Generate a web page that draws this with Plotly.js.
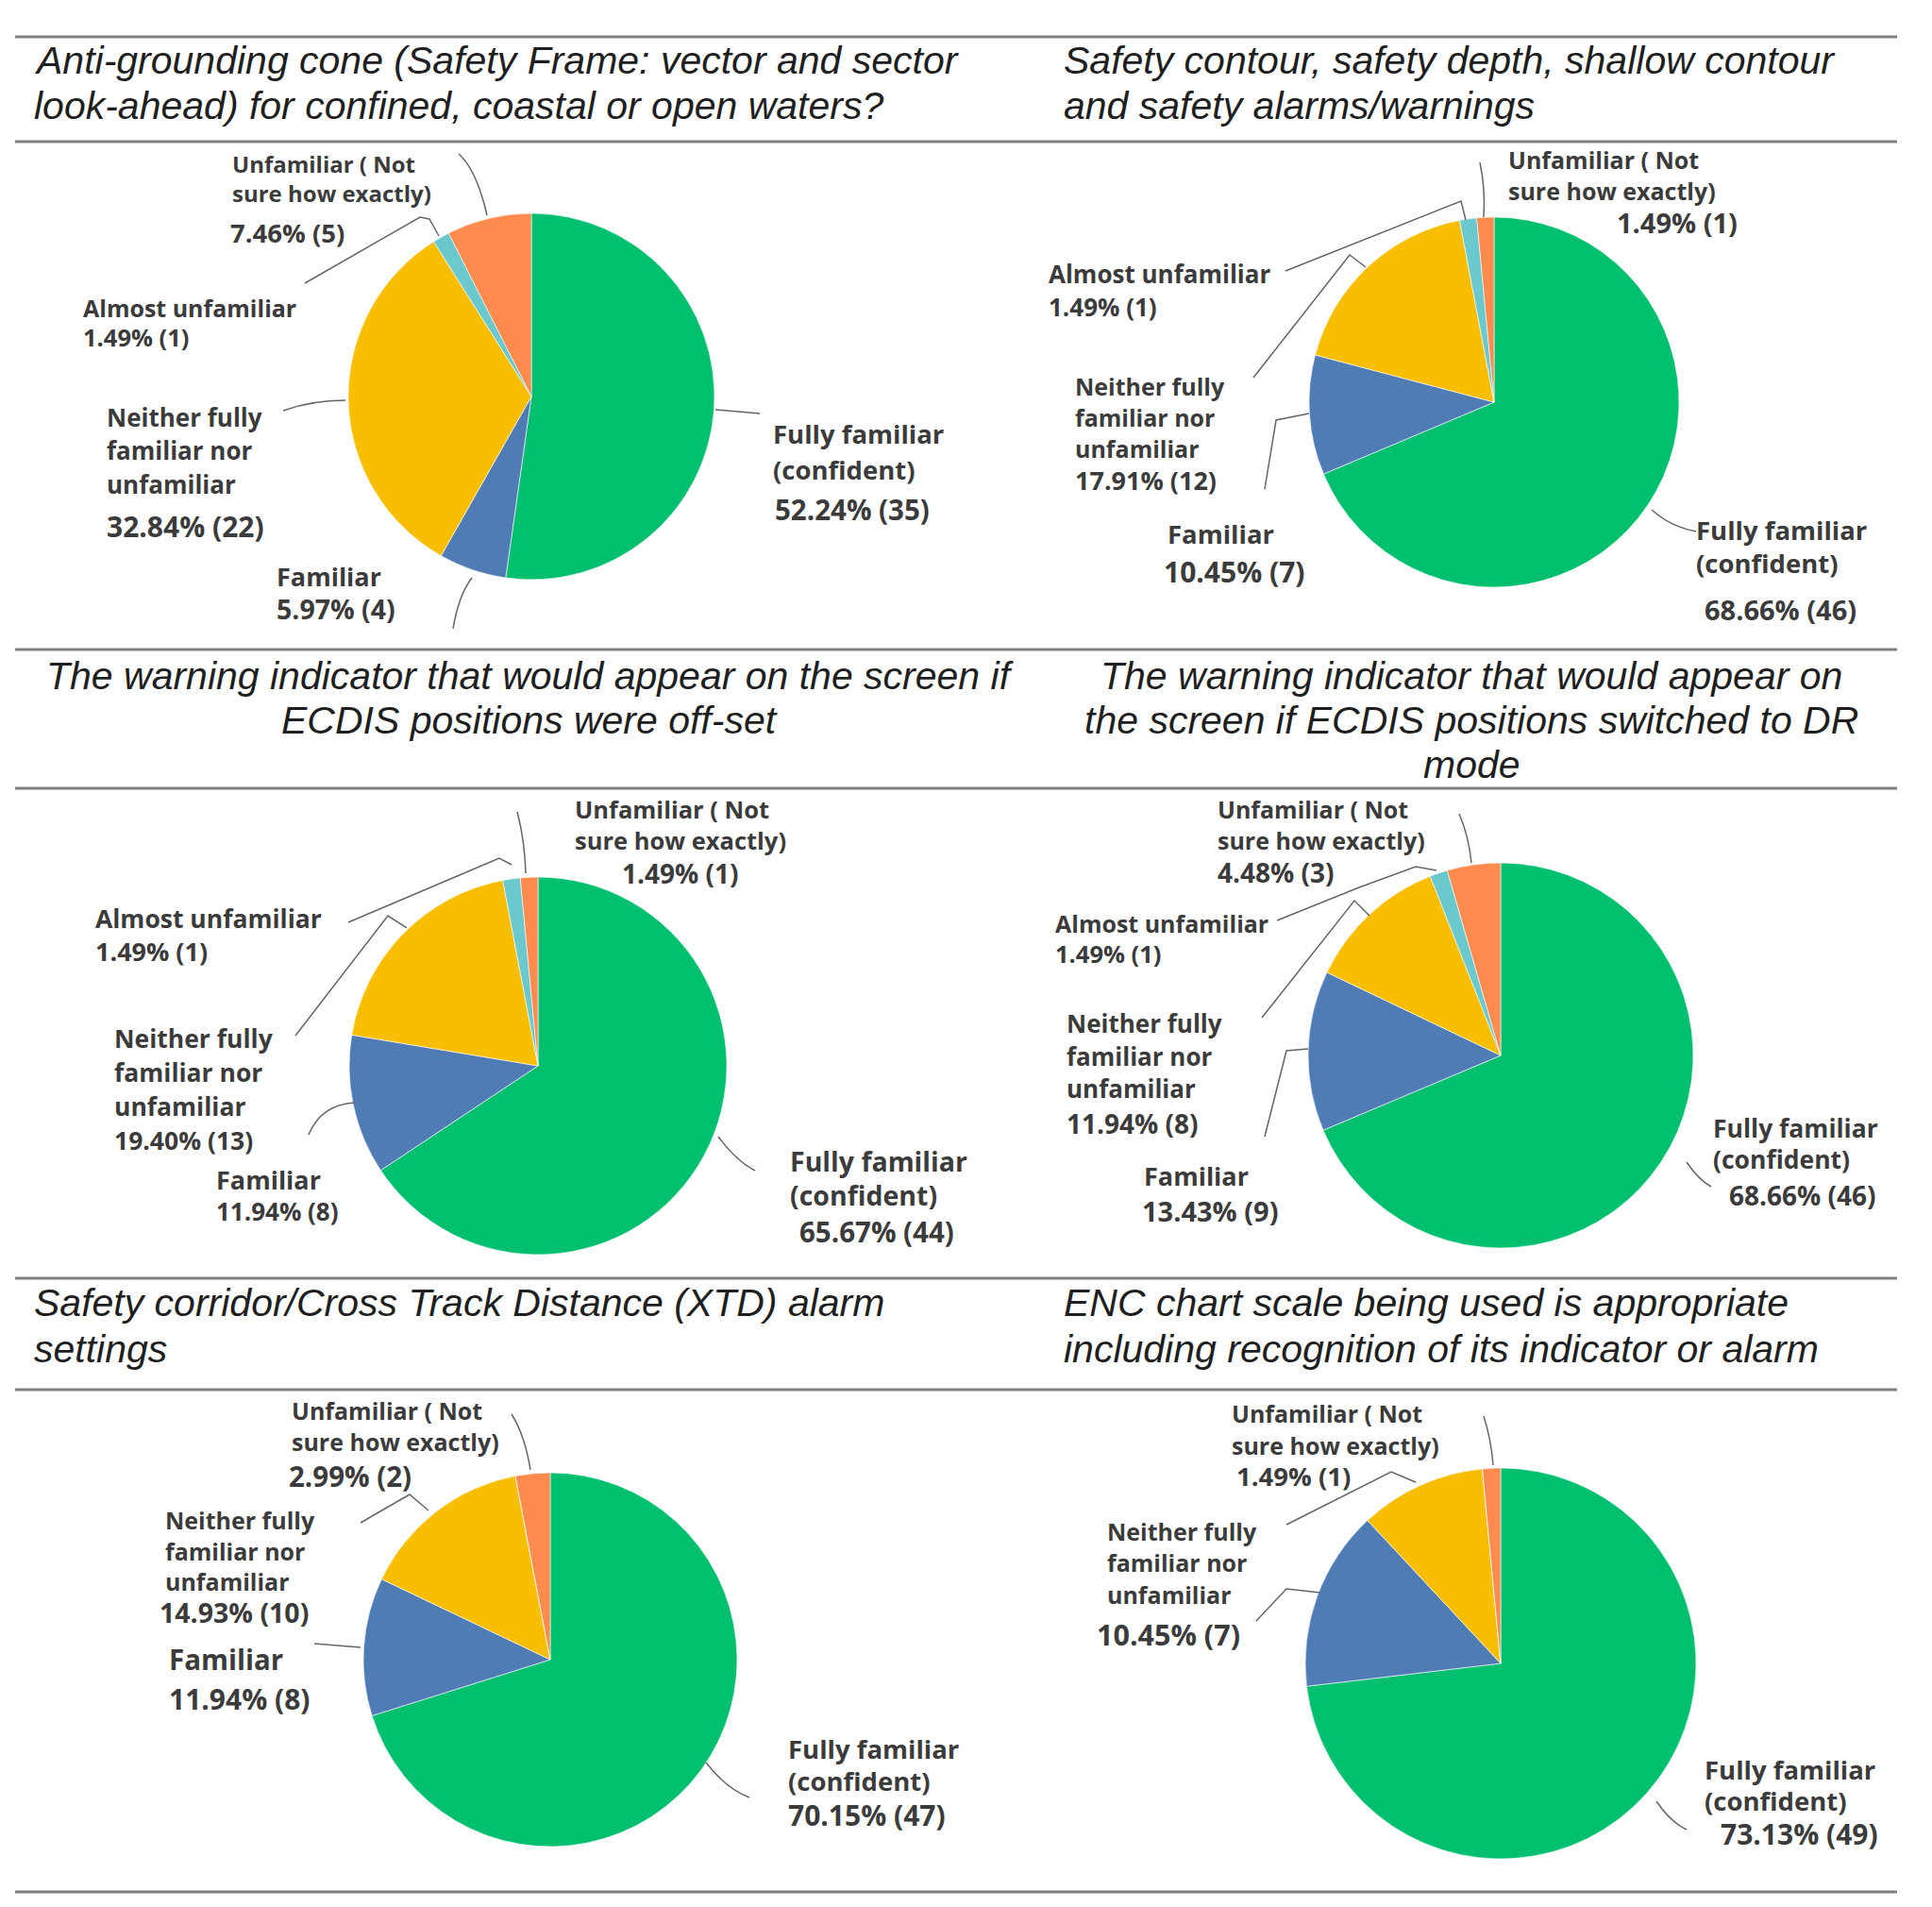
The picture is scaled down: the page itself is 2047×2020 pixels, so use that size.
<!DOCTYPE html>
<html>
<head>
<meta charset="utf-8">
<script src="https://cdn.plot.ly/plotly-3.0.1.min.js"></script>
<style>
  html, body { margin: 0; padding: 0; background: #ffffff; }
  #chart { width: 2047px; height: 2020px; }
</style>
</head>
<body>
<div id="chart"></div>
<script>
// Survey responses: familiarity with ECDIS safety settings (67 respondents per question)
const categories = [
  "Fully familiar (confident)",
  "Familiar",
  "Neither fully familiar nor unfamiliar",
  "Almost unfamiliar",
  "Unfamiliar ( Not sure how exactly)"
];
const categoryLines = [
  ["Fully familiar", "(confident)"],
  ["Familiar"],
  ["Neither fully", "familiar nor", "unfamiliar"],
  ["Almost unfamiliar"],
  ["Unfamiliar ( Not", "sure how exactly)"]
];
const sliceColors = ["#00bf6f", "#507cb6", "#f9be00", "#6bc8cd", "#ff8b4f"];

const questionTitles = [
  ["Anti-grounding cone (Safety Frame: vector and sector", "look-ahead) for confined, coastal or open waters?"],
  ["Safety contour, safety depth, shallow contour", "and safety alarms/warnings"],
  ["The warning indicator that would appear on the screen if", "ECDIS positions were off-set"],
  ["The warning indicator that would appear on", "the screen if ECDIS positions switched to DR", "mode"],
  ["Safety corridor/Cross Track Distance (XTD) alarm", "settings"],
  ["ENC chart scale being used is appropriate", "including recognition of its indicator or alarm"]
];

// Response counts, in category order
const antiGroundingCone = [35, 4, 22, 1, 5];
const safetyContour     = [46, 7, 12, 1, 1];
const offsetWarning     = [44, 8, 13, 1, 1];
const drModeWarning     = [46, 9, 8, 1, 3];
const xtdAlarm          = [47, 8, 10, 0, 2];
const chartScale        = [49, 10, 7, 0, 1];

const seriesList = [antiGroundingCone, safetyContour, offsetWarning, drModeWarning, xtdAlarm, chartScale];

// ---- page geometry (pixels) ----
const W = 2047, H = 2020;
const px = x => x / W;
const py = y => 1 - y / H;

// pie placement: centre and radius
const pieGeom = [
  {cx: 563,  cy: 420,  r: 194},
  {cx: 1583, cy: 426,  r: 196},
  {cx: 570,  cy: 1129, r: 200},
  {cx: 1590, cy: 1118, r: 204},
  {cx: 583,  cy: 1758, r: 198},
  {cx: 1590, cy: 1762, r: 207}
];

// title placement: anchor x, alignment, line centres
const titleGeom = [
  {x: 35,   align: "left",   ys: [64, 112]},
  {x: 1126, align: "left",   ys: [64, 112]},
  {x: 561,  align: "center", ys: [716, 763]},
  {x: 1559, align: "center", ys: [716, 763, 810]},
  {x: 35,   align: "left",   ys: [1380, 1429]},
  {x: 1126, align: "left",   ys: [1380, 1429]}
];

// horizontal separators
const ruleYs = [39, 150, 688, 835, 1354, 1472, 2004];

// label placement per pie: category index -> name lines (left x, line centres, size),
// percentage line (position, size)
const labelGeom = [
  {
    4: {x: 245, ys: [174, 205], n: 24, p: [243, 246], ps: 27.5},
    3: {x: 87,  ys: [326],      n: 25, p: [87, 357], ps: 25.5},
    2: {x: 112, ys: [442, 477, 513], n: 26, p: [112, 557], ps: 30},
    1: {x: 292, ys: [610],      n: 27, p: [292, 645], ps: 28.5},
    0: {x: 818, ys: [460, 497], n: 27.5, p: [820, 539], ps: 29.5}
  },
  {
    4: {x: 1597, ys: [169, 202], n: 25, p: [1712, 236], ps: 29},
    3: {x: 1110, ys: [290],      n: 26, p: [1110, 325], ps: 26},
    2: {x: 1138, ys: [409, 442, 475], n: 25, p: [1138, 508], ps: 27},
    1: {x: 1236, ys: [565],      n: 27.5, p: [1232, 605], ps: 30},
    0: {x: 1796, ys: [561, 596], n: 27.5, p: [1805, 645], ps: 29}
  },
  {
    4: {x: 608, ys: [857, 890], n: 25.5, p: [658, 925], ps: 28},
    3: {x: 100, ys: [973],      n: 26.5, p: [100, 1007], ps: 27},
    2: {x: 120, ys: [1100, 1136, 1172], n: 26.5, p: [120, 1208], ps: 26.5},
    1: {x: 228, ys: [1249],     n: 27, p: [228, 1283], ps: 26},
    0: {x: 836, ys: [1230, 1266], n: 28.5, p: [846, 1304], ps: 29.5}
  },
  {
    4: {x: 1289, ys: [857, 890], n: 25, p: [1289, 924], ps: 28},
    3: {x: 1117, ys: [978],      n: 25, p: [1117, 1010], ps: 25.5},
    2: {x: 1129, ys: [1084, 1119, 1153], n: 26, p: [1129, 1190], ps: 28},
    1: {x: 1211, ys: [1245],     n: 27, p: [1209, 1282], ps: 29},
    0: {x: 1814, ys: [1195, 1228], n: 26.5, p: [1831, 1266], ps: 28}
  },
  {
    4: {x: 308, ys: [1494, 1527], n: 25, p: [305, 1563], ps: 29.5},
    2: {x: 174, ys: [1610, 1643, 1675], n: 25, p: [168, 1708], ps: 28.5},
    1: {x: 178, ys: [1757],     n: 29.5, p: [178, 1799], ps: 30},
    0: {x: 834, ys: [1852, 1886], n: 27.5, p: [834, 1922], ps: 30}
  },
  {
    4: {x: 1304, ys: [1497, 1531], n: 25, p: [1309, 1563], ps: 27.5},
    2: {x: 1172, ys: [1622, 1655, 1689], n: 25, p: [1161, 1731], ps: 30.5},
    0: {x: 1805, ys: [1874, 1907], n: 27.5, p: [1822, 1942], ps: 30}
  }
];

// leader lines from labels to slices (SVG paths, pixels)
const leaderPaths = [
  ["M486,163 Q505,180 516,228", "M323,300 L445,230 L455,232 L465,250",
   "M300,435 Q330,424 366,424", "M480,666 Q486,630 500,612", "M758,434 L805,438"],
  ["M1568,172 Q1574,200 1572,230", "M1362,287 L1548,213 L1553,233",
   "M1328,400 L1430,270 L1447,283", "M1340,518 L1352,445 L1387,438", "M1750,540 Q1770,558 1797,563"],
  ["M548,860 Q556,890 557,925", "M369,977 L529,909 L542,916",
   "M313,1097 L411,970 L431,983", "M327,1202 Q340,1170 376,1168", "M761,1204 Q780,1230 800,1240"],
  ["M1546,862 Q1556,885 1559,914", "M1353,975 L1440,940 L1500,918 L1522,922",
   "M1337,1078 L1435,954 L1451,970", "M1340,1204 L1363,1113 L1386,1111", "M1787,1231 Q1800,1250 1813,1257"],
  ["M542,1498 Q556,1520 562,1557", "M382,1613 L434,1583 L454,1600",
   "M333,1741 L382,1745", "M748,1867 Q770,1895 794,1904"],
  ["M1572,1500 Q1580,1525 1582,1552", "M1363,1615 L1474,1559 L1500,1570",
   "M1331,1717 L1363,1683 L1399,1687", "M1755,1908 Q1770,1930 1787,1938"]
];

// convert a pixel-space path to paper coordinates
function toPaperPath(d) {
  return d.replace(/(-?\d+(?:\.\d+)?),(-?\d+(?:\.\d+)?)/g,
    (m, a, b) => px(+a).toFixed(5) + "," + py(+b).toFixed(5));
}

const labelFont = {family: '"Open Sans", "Noto Sans", sans-serif', color: "#3b3b3b", weight: 700};
const titleFont = {family: '"Liberation Sans", Arial, sans-serif', size: 41, color: "#1f1f1f", style: "italic"};

const traces = seriesList.map((vals, i) => {
  const g = pieGeom[i];
  return {
    type: "pie",
    values: vals,
    labels: categories,
    sort: false,
    direction: "clockwise",
    rotation: 0,
    textinfo: "none",
    hoverinfo: "label+value+percent",
    showlegend: false,
    marker: {colors: sliceColors, line: {color: "rgba(255,255,255,0.6)", width: 1}},
    domain: {x: [px(g.cx - g.r), px(g.cx + g.r)], y: [py(g.cy + g.r), py(g.cy - g.r)]}
  };
});

const annotations = [];
const shapes = [];

ruleYs.forEach(y => {
  shapes.push({type: "line", xref: "paper", yref: "paper",
    x0: px(16), x1: px(2010), y0: py(y), y1: py(y),
    line: {color: "#808080", width: 3}});
});

questionTitles.forEach((lines, i) => {
  const g = titleGeom[i];
  lines.forEach((t, k) => {
    annotations.push({xref: "paper", yref: "paper", x: px(g.x), y: py(g.ys[k]),
      xanchor: g.align, yanchor: "middle", showarrow: false, text: t, font: titleFont,
      borderpad: 0});
  });
});

seriesList.forEach((vals, i) => {
  const total = vals.reduce((a, b) => a + b, 0);
  const spec = labelGeom[i];
  Object.keys(spec).forEach(key => {
    const c = +key;
    const s = spec[key];
    categoryLines[c].forEach((t, k) => {
      annotations.push({xref: "paper", yref: "paper", x: px(s.x), y: py(s.ys[k]),
        xanchor: "left", yanchor: "middle", showarrow: false, text: t, borderpad: 0,
        font: Object.assign({size: s.n}, labelFont)});
    });
    const pct = (vals[c] / total * 100).toFixed(2) + "% (" + vals[c] + ")";
    annotations.push({xref: "paper", yref: "paper", x: px(s.p[0]), y: py(s.p[1]),
      xanchor: "left", yanchor: "middle", showarrow: false, text: pct, borderpad: 0,
      font: Object.assign({size: s.ps}, labelFont)});
  });
  leaderPaths[i].forEach(d => {
    shapes.push({type: "path", xref: "paper", yref: "paper", path: toPaperPath(d),
      line: {color: "#666666", width: 1.5}});
  });
});

const layout = {
  width: W,
  height: H,
  margin: {l: 0, r: 0, t: 0, b: 0},
  paper_bgcolor: "#ffffff",
  plot_bgcolor: "#ffffff",
  showlegend: false,
  annotations: annotations,
  shapes: shapes
};

Plotly.newPlot("chart", traces, layout, {displayModeBar: false, staticPlot: true});
</script>
</body>
</html>
